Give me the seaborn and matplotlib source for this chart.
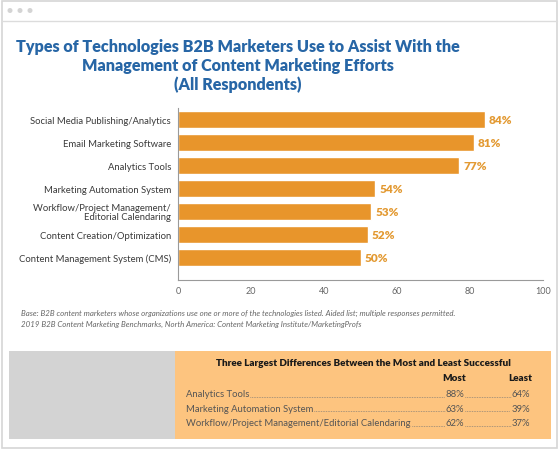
import matplotlib
matplotlib.use('Agg')
import matplotlib.pyplot as plt
import seaborn as sns
from matplotlib.patches import Rectangle, Ellipse

# data
categories = ['Social Media Publishing/Analytics', 'Email Marketing Software', 'Analytics Tools',
              'Marketing Automation System', 'Workflow/Project Management/\nEditorial Calendaring',
              'Content Creation/Optimization', 'Content Management System (CMS)']
shares = [84, 81, 77, 54, 53, 52, 50]

diff_labels = ['Analytics Tools', 'Marketing Automation System',
               'Workflow/Project Management/Editorial Calendaring']
most_vals = [88, 63, 62]
least_vals = [64, 39, 37]

title_lines = ['Types of Technologies B2B Marketers Use to Assist With the',
               'Management of Content Marketing Efforts',
               '(All Respondents)']
notes = ['Base: B2B content marketers whose organizations use one or more of the technologies listed. '
         'Aided list; multiple responses permitted.',
         '2019 B2B Content Marketing Benchmarks, North America: Content Marketing Institute/MarketingProfs']

BAR = '#E8952B'
BLUE = '#2766A6'

sns.set_style('white')
plt.rcParams['font.family'] = ['Lato', 'DejaVu Sans']

W, H = 560, 452
fig = plt.figure(figsize=(W / 100, H / 100), dpi=100)
r = fig.canvas.get_renderer()

# overlay in pixel coords for frame, titles and the bottom panel
ov = fig.add_axes([0, 0, 1, 1])
ov.set_xlim(0, W)
ov.set_ylim(H, 0)
ov.axis('off')

ov.add_patch(Rectangle((2, 2), 555, 447, fill=False, ec='#d6d6d6', lw=1.2))
ov.plot([2, 557], [22, 22], color='#dcdcdc', lw=1)
for cx in (10, 20, 30):
    ov.add_patch(Ellipse((cx, 11.5), 5, 5, color='#d4d4d4', lw=0))

for i, line in enumerate(title_lines):
    ov.text(238, 47 + i * 19, line, ha='center', va='center', fontsize=11.6,
            fontweight='heavy', color=BLUE)

note_texts = []
for i, line in enumerate(notes):
    note_texts.append(ov.text(21, 313 + i * 11.5, line, ha='left', va='center', fontsize=5.25,
                              style='italic', color='#666666'))
# footnote is set small: scale it so the first line spans like the original
w = note_texts[0].get_window_extent(r).width
for t in note_texts:
    t.set_fontsize(5.25 * 435 / w)

ov.add_patch(Rectangle((9, 352), 166, 88, color='#D3D3D3', lw=0))
ov.add_patch(Rectangle((175, 352), 376, 88, color='#FDC47F', lw=0))
ov.text(363, 364, 'Three Largest Differences Between the Most and Least Successful',
        ha='center', va='center', fontsize=7.1, fontweight='heavy', color='#1a1a1a')
ov.text(454, 379, 'Most', ha='center', va='center', fontsize=7.1, fontweight='heavy', color='#1a1a1a')
ov.text(520, 379, 'Least', ha='center', va='center', fontsize=7.1, fontweight='heavy', color='#1a1a1a')

row_texts = []
for i, (lab, m, l) in enumerate(zip(diff_labels, most_vals, least_vals)):
    y = 395 + i * 14.5
    t1 = ov.text(186, y, lab, ha='left', va='center', fontsize=6.85, color='#555555')
    t2 = ov.text(464, y, f'{m}%', ha='right', va='center', fontsize=6.85, color='#555555')
    t3 = ov.text(530, y, f'{l}%', ha='right', va='center', fontsize=6.85, color='#555555')
    row_texts.append((y, t1, t2, t3))

# the bar chart
ax = fig.add_axes([178 / W, 1 - 281 / H, 365 / W, 172 / H])
sns.barplot(x=shares, y=categories, orient='h', color=BAR, saturation=1, width=0.74, ax=ax)
ax.bar_label(ax.containers[0], fmt='{:.0f}%', padding=3, color='#E39A33',
             fontsize=8.5, fontweight='heavy')
ax.set_xlim(0, 100)
ax.set_ylim(6.99, -0.5)
ax.set_xticks(range(0, 101, 20))
ax.tick_params(axis='x', direction='in', length=5, width=0.7, color='#999999',
               labelsize=6.5, labelcolor='#666666', pad=4)
ax.tick_params(axis='y', length=0, labelsize=6.85, labelcolor='#3a3a3a', pad=5)
for lab in ax.get_yticklabels():
    lab.set_linespacing(0.9)
sns.despine(ax=ax)
for s in ('left', 'bottom'):
    ax.spines[s].set_color('#9a9a9a')
    ax.spines[s].set_linewidth(0.8)
ax.set_xlabel('')
ax.set_ylabel('')

# dotted leaders between the panel columns
fig.canvas.draw()
inv = ov.transData.inverted()
for y, t1, t2, t3 in row_texts:
    e1 = inv.transform(t1.get_window_extent(r))
    e2 = inv.transform(t2.get_window_extent(r))
    e3 = inv.transform(t3.get_window_extent(r))
    yb = y + 2.5
    ov.plot([e1[1][0] + 1, min(e2[:, 0]) - 1], [yb, yb], color='#777777', lw=0.6, ls=(0, (0.8, 1.2)))
    ov.plot([max(e2[:, 0]) + 1, min(e3[:, 0]) - 1], [yb, yb], color='#777777', lw=0.6, ls=(0, (0.8, 1.2)))

fig.savefig('out.png', dpi=100)
